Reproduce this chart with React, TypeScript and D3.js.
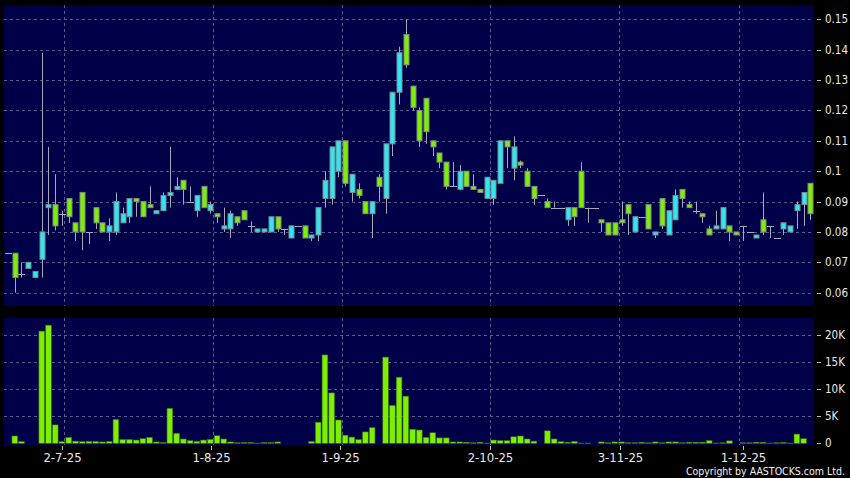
import React from "react";
import * as d3 from "d3";

// daily OHLC (oldest first)
const opens = [
  0.073, 0.073, 0.066, 0.068, 0.065, 0.071, 0.088, 0.089, 0.086, 0.091,
  0.083, 0.093, 0.080, 0.088, 0.083, 0.080, 0.080, 0.083, 0.085, 0.091,
  0.090, 0.089, 0.086, 0.087, 0.092, 0.094, 0.097, 0.090, 0.087, 0.095,
  0.087, 0.086, 0.081, 0.081, 0.085, 0.087, 0.082, 0.080, 0.080, 0.080,
  0.085, 0.081, 0.078, 0.082, 0.082, 0.078, 0.079, 0.091, 0.091, 0.100,
  0.110, 0.093, 0.094, 0.090, 0.086, 0.098, 0.091, 0.109, 0.126, 0.145,
  0.128, 0.120, 0.124, 0.110, 0.106, 0.103, 0.095, 0.094, 0.100, 0.095,
  0.094, 0.091, 0.091, 0.096, 0.110, 0.101, 0.103, 0.100, 0.095, 0.092,
  0.090, 0.088, 0.088, 0.084, 0.088, 0.100, 0.088, 0.088, 0.084, 0.083,
  0.083, 0.084, 0.089, 0.080, 0.085, 0.089, 0.079, 0.091, 0.079, 0.084,
  0.094, 0.089, 0.087, 0.086, 0.081, 0.081, 0.081, 0.082, 0.080, 0.082,
  0.080, 0.078, 0.084, 0.082, 0.078, 0.081, 0.080, 0.087, 0.089, 0.096,
];
const highs = [
  0.073, 0.073, 0.070, 0.070, 0.067, 0.139, 0.108, 0.099, 0.087, 0.091,
  0.083, 0.093, 0.080, 0.088, 0.083, 0.0845, 0.093, 0.088, 0.091, 0.091,
  0.090, 0.095, 0.087, 0.093, 0.108, 0.098, 0.097, 0.095, 0.092, 0.095,
  0.090, 0.086, 0.088, 0.087, 0.085, 0.087, 0.0835, 0.081, 0.081, 0.085,
  0.085, 0.081, 0.082, 0.082, 0.082, 0.079, 0.088, 0.100, 0.108, 0.110,
  0.110, 0.099, 0.096, 0.090, 0.090, 0.099, 0.109, 0.126, 0.141, 0.150,
  0.128, 0.121, 0.124, 0.110, 0.106, 0.103, 0.103, 0.102, 0.100, 0.099,
  0.094, 0.098, 0.097, 0.110, 0.110, 0.1115, 0.1035, 0.101, 0.095, 0.092,
  0.091, 0.090, 0.088, 0.088, 0.088, 0.103, 0.088, 0.088, 0.084, 0.083,
  0.083, 0.090, 0.089, 0.085, 0.085, 0.089, 0.080, 0.091, 0.087, 0.094,
  0.094, 0.090, 0.090, 0.086, 0.082, 0.087, 0.088, 0.082, 0.080, 0.082,
  0.080, 0.079, 0.093, 0.082, 0.078, 0.083, 0.082, 0.090, 0.093, 0.096,
];
const lows = [
  0.073, 0.060, 0.065, 0.068, 0.065, 0.065, 0.079, 0.0805, 0.082, 0.083,
  0.077, 0.074, 0.076, 0.081, 0.080, 0.077, 0.079, 0.083, 0.083, 0.085,
  0.085, 0.088, 0.086, 0.087, 0.088, 0.094, 0.089, 0.090, 0.085, 0.088,
  0.086, 0.083, 0.080, 0.078, 0.082, 0.084, 0.080, 0.080, 0.080, 0.080,
  0.080, 0.079, 0.078, 0.082, 0.078, 0.077, 0.077, 0.088, 0.089, 0.098,
  0.095, 0.090, 0.091, 0.086, 0.078, 0.090, 0.086, 0.105, 0.122, 0.134,
  0.120, 0.108, 0.109, 0.105, 0.101, 0.094, 0.095, 0.094, 0.095, 0.094,
  0.093, 0.091, 0.089, 0.096, 0.101, 0.097, 0.101, 0.095, 0.089, 0.092,
  0.088, 0.088, 0.088, 0.082, 0.082, 0.088, 0.083, 0.088, 0.080, 0.079,
  0.079, 0.082, 0.079, 0.080, 0.085, 0.081, 0.078, 0.081, 0.079, 0.084,
  0.088, 0.088, 0.086, 0.083, 0.079, 0.081, 0.081, 0.077, 0.079, 0.077,
  0.080, 0.078, 0.079, 0.078, 0.078, 0.079, 0.080, 0.081, 0.082, 0.084,
];
const closes = [
  0.073, 0.065, 0.066, 0.070, 0.067, 0.080, 0.089, 0.082, 0.086, 0.085,
  0.080, 0.080, 0.080, 0.083, 0.080, 0.082, 0.090, 0.086, 0.091, 0.090,
  0.085, 0.088, 0.087, 0.092, 0.093, 0.095, 0.094, 0.090, 0.092, 0.088,
  0.089, 0.085, 0.082, 0.086, 0.083, 0.084, 0.082, 0.081, 0.081, 0.085,
  0.081, 0.081, 0.082, 0.082, 0.078, 0.079, 0.088, 0.097, 0.108, 0.110,
  0.096, 0.099, 0.092, 0.086, 0.090, 0.095, 0.109, 0.126, 0.139, 0.135,
  0.121, 0.110, 0.113, 0.108, 0.103, 0.095, 0.095, 0.100, 0.095, 0.094,
  0.093, 0.098, 0.097, 0.110, 0.108, 0.108, 0.102, 0.095, 0.091, 0.092,
  0.088, 0.088, 0.088, 0.088, 0.085, 0.088, 0.088, 0.088, 0.083, 0.079,
  0.079, 0.083, 0.086, 0.085, 0.085, 0.081, 0.080, 0.082, 0.087, 0.092,
  0.091, 0.088, 0.087, 0.085, 0.079, 0.082, 0.088, 0.080, 0.079, 0.082,
  0.080, 0.079, 0.080, 0.082, 0.078, 0.083, 0.082, 0.089, 0.093, 0.086,
];
// volume in thousands of shares
const volumes = [
  0, 1.35, 0.3, 0, 0, 20.7, 21.8, 3.4, 0.3, 1.1,
  0.4, 0.3, 0.35, 0.35, 0.25, 0.35, 4.4, 0.7, 0.7, 0.6,
  0.85, 1.1, 0.25, 0.15, 6.45, 1.85, 0.8, 0.5, 0.37, 0.6,
  0.73, 1.4, 0.8, 0.25, 0.1, 0.15, 0.15, 0.05, 0.15, 0.15,
  0.25, 0, 0, 0, 0, 0.35, 3.9, 16.3, 9.3, 4.3,
  1.5, 1.15, 0.7, 2.1, 2.9, 0, 15.9, 7.0, 12.2, 8.7,
  2.6, 2.45, 1.1, 1.95, 1.0, 1.0, 0.25, 0.25, 0.2, 0.1,
  0.2, 0.05, 0.6, 0.5, 0.5, 1.2, 1.35, 0.8, 0.4, 0,
  2.3, 0.8, 0.3, 0.2, 0.35, 0.05, 0.05, 0, 0.25, 0.1,
  0.25, 0.25, 0.1, 0.1, 0.2, 0.1, 0.25, 0.1, 0.25, 0.25,
  0.1, 0.2, 0.2, 0.2, 0.5, 0.05, 0.1, 0.45, 0, 0.1,
  0.1, 0.2, 0.2, 0.05, 0.1, 0.15, 0.05, 1.7, 0.85, 0,
];

const priceTicks = [0.06, 0.07, 0.08, 0.09, 0.1, 0.11, 0.12, 0.13, 0.14, 0.15];
const volTicks = [0, 5, 10, 15, 20];
const volLabels = ["0", "5K", "10K", "15K", "20K"];
const dateLabels = ["2-7-25", "1-8-25", "1-9-25", "2-10-25", "3-11-25", "1-12-25"];
// positions in candle-index units
const dateTickAt = [7.96, 30.1, 49.2, 71.5, 90.7, 108.97];
const dateGridAt = [8.3, 30.4, 49.47, 71.54, 90.58, 108.47];

const UP = "#30e6f2";
const DOWN = "#7cf000";
const GRID = "#5a5a8e";
const WICK = "#a8a8b8";
const NAVY = "#000048";
const FONT = "'DejaVu Sans Condensed', 'DejaVu Sans', sans-serif";

export default function App() {
  const width = 850;
  const height = 478;
  const left = 4, right = 814;
  const pTop = 5, pBot = 306;
  const vTop = 318, vBot = 445;

  const x = d3.scaleLinear().domain([0, opens.length - 1]).range([8, 810.3]);
  const y = d3.scaleLinear().domain([0.06, 0.15]).range([292.7, 19.3]);
  const yv = d3.scaleLinear().domain([0, 20]).range([443.3, 334.9]);

  const half = 2.5;

  return (
    <div style={{ position: "absolute", left: 0, top: 0 }}>
      <svg width={width} height={height} style={{ display: "block", background: "#000" }} fontFamily={FONT}>
        <rect x={0} y={0} width={width} height={height} fill="#000" />
        <rect x={left} y={pTop} width={right - left} height={pBot - pTop} fill={NAVY} />
        <rect x={left} y={vTop} width={right - left} height={vBot - vTop} fill={NAVY} />

        {/* grid */}
        {priceTicks.map((t) => (
          <line key={"pg" + t} x1={left} x2={right} y1={Math.round(y(t)) + 0.5} y2={Math.round(y(t)) + 0.5}
            stroke={GRID} strokeDasharray="3,3" />
        ))}
        {volTicks.slice(1).map((t) => (
          <line key={"vg" + t} x1={left} x2={right} y1={Math.round(yv(t)) + 0.5} y2={Math.round(yv(t)) + 0.5}
            stroke={GRID} strokeDasharray="3,3" />
        ))}
        {dateGridAt.map((d, i) => {
          const gx = Math.round(x(d)) + 0.5;
          return (
            <g key={"dg" + i}>
              <line x1={gx} x2={gx} y1={pTop} y2={pBot} stroke={GRID} strokeDasharray="3,3" />
              <line x1={gx} x2={gx} y1={vTop} y2={vBot} stroke={GRID} strokeDasharray="3,3" />
            </g>
          );
        })}

        {/* candles */}
        {opens.map((o, i) => {
          const c = closes[i];
          const cx = Math.round(x(i)) + 0.5;
          const wick = highs[i] > lows[i] ? (
            <line x1={cx} x2={cx} y1={y(highs[i])} y2={y(lows[i])} stroke={WICK} />
          ) : null;
          if (o === c) {
            const yy = Math.round(y(c)) + 0.5;
            return (
              <g key={"c" + i}>
                {wick}
                <line x1={cx - 3.5} x2={cx + 3.5} y1={yy} y2={yy} stroke={WICK} />
              </g>
            );
          }
          const top = y(Math.max(o, c));
          const bot = y(Math.min(o, c));
          return (
            <g key={"c" + i}>
              {wick}
              <rect x={cx - half} y={top} width={half * 2} height={Math.max(1, bot - top)}
                fill={c > o ? UP : DOWN} stroke="#7d8a86" strokeWidth={1} />
            </g>
          );
        })}

        {/* volume */}
        {volumes.map((v, i) =>
          v > 0 ? (
            <rect key={"v" + i} x={x(i) - 2.8} y={yv(v)} width={5.7} height={yv(0) - yv(v)}
              fill={DOWN} stroke="#3c6a18" strokeWidth={0.6} />
          ) : null
        )}

        {/* right axis */}
        {priceTicks.map((t) => (
          <g key={"pl" + t}>
            <line x1={817} x2={821} y1={Math.round(y(t)) + 0.5} y2={Math.round(y(t)) + 0.5} stroke="#bbb" />
            <text x={825} y={y(t)} dy="0.35em" fontSize={11.5} fill="#e8e8e8">{String(t)}</text>
          </g>
        ))}
        {volTicks.map((t, i) => (
          <g key={"vl" + t}>
            <line x1={817} x2={821} y1={Math.round(yv(t)) + 0.5} y2={Math.round(yv(t)) + 0.5} stroke="#bbb" />
            <text x={825} y={yv(t)} dy="0.35em" fontSize={11.5} fill="#e8e8e8">{volLabels[i]}</text>
          </g>
        ))}

        {/* date axis */}
        {dateTickAt.map((d, i) => {
          const tx = Math.round(x(d)) + 0.5;
          return (
            <g key={"dl" + i}>
              <line x1={tx} x2={tx} y1={446} y2={450} stroke="#bbb" />
              <text x={tx} y={462} textAnchor="middle" fontSize={13} fill="#e8e8e8">{dateLabels[i]}</text>
            </g>
          );
        })}

        <text x={845} y={475} textAnchor="end" fontSize={10.5} fill="#f0f0f0">Copyright by AASTOCKS.com Ltd.</text>
      </svg>
    </div>
  );
}
